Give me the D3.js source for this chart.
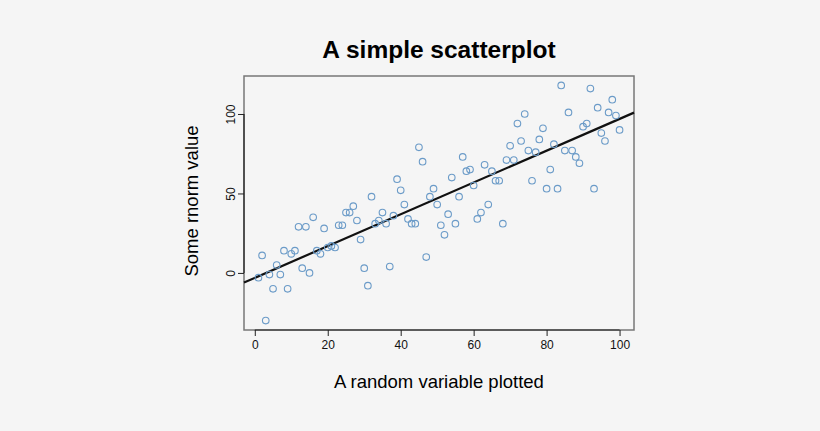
<!DOCTYPE html>
<html><head><meta charset="utf-8">
<script src="https://cdn.jsdelivr.net/npm/d3@7"></script>
<style>body{margin:0;background:#f5f5f5}text{font-family:"Liberation Sans",Arial,sans-serif}</style>
</head><body><svg id="c" width="820" height="431"></svg>
<script>
// x values 1..100, y
var xs = d3.range(1, 101);
var ys = [-3,11,-30,-1,-10,5,-1,14,-10,12,14,29,3,29,0,35,14,12,28,16,
  17,16,30,30,38,38,42,33,21,3,-8,48,31,33,38,31,4,36,59,52,
  43,34,31,31,79,70,10,48,53,43,30,24,37,60,31,48,73,64,65,55,
  34,38,68,43,64,58,58,31,71,80,71,94,83,100,77,58,76,84,91,53,
  65,81,53,118,77,101,77,73,69,92,94,116,53,104,88,83,101,109,99,90];
var fit = {a: -3.1, b: 1.0};
var xTicks = [0, 20, 40, 60, 80, 100];
var yTicks = [0, 50, 100];

var svg = d3.select("#c");
var L = 244, R = 634, T = 76, B = 330;
var x = d3.scaleLinear().domain([-2.96, 103.96]).range([L, R]);
var y = d3.scaleLinear().domain([-35.9, 123.9]).range([B, T]);

// plot box
svg.append("rect").attr("x", L).attr("y", T).attr("width", R - L).attr("height", B - T)
  .attr("fill", "none").attr("stroke", "#777").attr("stroke-width", 1.5);

// axes
var xa = svg.append("g").attr("transform", "translate(0," + B + ")")
  .call(d3.axisBottom(x).tickValues(xTicks).tickSize(6).tickSizeOuter(0).tickPadding(4));
var ya = svg.append("g").attr("transform", "translate(" + L + ",0)")
  .call(d3.axisLeft(y).tickValues(yTicks).tickSize(6).tickSizeOuter(0).tickPadding(3));
xa.select(".domain").attr("d", "M" + x(0) + ",0H" + x(100));
ya.select(".domain").attr("d", "M0," + y(0) + "V" + y(100));
[xa, ya].forEach(function (g) {
  g.selectAll("path").attr("stroke", "#222").attr("stroke-width", 1.2);
  g.selectAll("line").attr("stroke", "#222");
  g.selectAll("text").attr("font-size", 12).attr("fill", "#111")
    .attr("font-family", "Liberation Sans Narrow, Liberation Sans, sans-serif");
});
ya.selectAll(".tick text").attr("transform", "rotate(-90)")
  .attr("text-anchor", "middle").attr("x", 0).attr("y", -9).attr("dy", "0");

// regression line
svg.append("line")
  .attr("x1", x(-2.96)).attr("y1", y(fit.a + fit.b * -2.96))
  .attr("x2", x(103.96)).attr("y2", y(fit.a + fit.b * 103.96))
  .attr("stroke", "#111").attr("stroke-width", 2.2);

// points
svg.selectAll("circle.p").data(xs).enter().append("circle")
  .attr("cx", function (d) { return x(d); })
  .attr("cy", function (d, i) { return y(ys[i]); })
  .attr("r", 3.3).attr("fill", "none").attr("stroke", "#6b9bc8").attr("stroke-width", 1.1);

// labels
svg.append("text").attr("x", 439).attr("y", 58).attr("text-anchor", "middle")
  .attr("font-size", 24.5).attr("font-weight", "bold").text("A simple scatterplot");
svg.append("text").attr("x", 439).attr("y", 388).attr("text-anchor", "middle")
  .attr("font-size", 18.5).text("A random variable plotted");
svg.append("text").attr("transform", "translate(198,201) rotate(-90)").attr("text-anchor", "middle")
  .attr("font-size", 18.5).text("Some rnorm value");
</script></body></html>
